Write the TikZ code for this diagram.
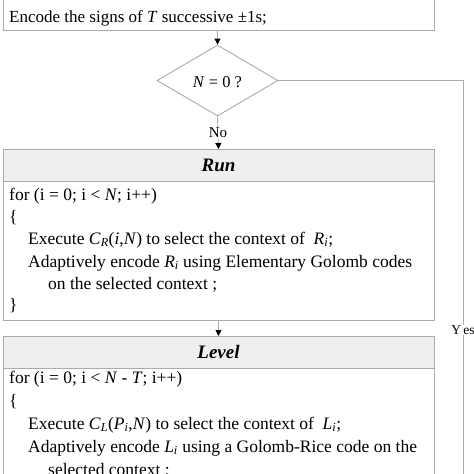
\documentclass[tikz,border=0pt]{standalone}
\usepackage{fontspec}
\setmainfont{Liberation Serif}
\usetikzlibrary{shapes.geometric,arrows.meta}
\definecolor{edgegray}{HTML}{ABABAB}
\definecolor{headfill}{HTML}{EFEFEF}
\begin{document}
\begin{tikzpicture}[x=1pt,y=-1pt,
  panel/.style={draw=edgegray,line width=0.9pt,rectangle,inner sep=0,minimum width=431pt},
  headbox/.style={panel,fill=headfill,minimum height=31.5pt,font=\fontsize{19}{22}\selectfont\bfseries\itshape},
  txt/.style={anchor=base west,inner sep=0,font=\fontsize{17.5}{20}\selectfont},
  conn/.style={draw=edgegray,line width=0.9pt},
  arr/.style={conn,-{Triangle[width=6pt,length=6pt,color=black]}},
  lbl/.style={fill=white,inner sep=1pt,font=\fontsize{15}{17}\selectfont}]
\useasboundingbox (0,0) rectangle (474,474);
\clip (0,0) rectangle (474,474);
% top box
\node[panel,fill=white,minimum height=60pt,anchor=south] (top) at (218.5,31) {};
\node[txt,font=\fontsize{17}{20}\selectfont] (t1) at (9,22) {Encode the signs of \textit{T} successive ±1s;};
% decision
\node[diamond,draw=edgegray,line width=0.9pt,fill=white,minimum width=121pt,minimum height=71pt,inner sep=0] (dec) at (217.5,80.5) {};
\node[font=\fontsize{16.5}{18}\selectfont,inner sep=0] (dect) at (217.5,82) {\textit{N} = 0 ?};
% Run
\node[headbox,anchor=north] (runh) at (218.5,149) {Run};
\node[panel,fill=white,minimum height=139pt,anchor=north] (runb) at (runh.south) {};
\node[txt] (r1) at (9,200) {for (i = 0; i < \textit{N}; i++)};
\node[txt] (r2) at (9,222) {\{};
\node[txt] (r3) at (28,244) {Execute \textit{C}\textsubscript{\textit{R}}(\textit{i},\textit{N}) to select the context of \ \textit{R}\textsubscript{\textit{i}};};
\node[txt] (r4) at (28,267) {Adaptively encode \textit{R}\textsubscript{\textit{i}} using Elementary Golomb codes};
\node[txt] (r5) at (48,289) {on the selected context ;};
\node[txt] (r6) at (9,310) {\}};
% Level
\node[headbox,anchor=north] (levh) at (218.5,336) {Level};
\node[panel,fill=white,minimum height=160pt,anchor=north] (levb) at (levh.south) {};
\node[txt] (l1) at (9,383) {for (i = 0; i < \textit{N} - \textit{T}; i++)};
\node[txt] (l2) at (9,406) {\{};
\node[txt] (l3) at (28,429) {Execute \textit{C}\textsubscript{\textit{L}}(\textit{P}\textsubscript{\textit{i}},\textit{N}) to select the context of \ \textit{L}\textsubscript{\textit{i}};};
\node[txt] (l4) at (28,452) {Adaptively encode \textit{L}\textsubscript{\textit{i}} using a Golomb-Rice code on the};
\node[txt] (l5) at (48,475) {selected context ;};
% connectors
\draw[arr] (top.south -| dec.north) -- (dec.north);
\draw[arr] (dec.south) -- node[lbl,pos=0.5] (no) {No} (runh.north);
\draw[arr] (runb.south) -- (levh.north);
\coordinate (yc1) at (463,80.5);
\coordinate (yc2) at (463,580);
\draw[conn] (dec.east) -- (yc1) -- node[lbl,pos=0.5,font=\fontsize{13.5}{15}\selectfont,inner sep=0.5pt] (yes) {Y\,es} (yc2);
\end{tikzpicture}
\end{document}
